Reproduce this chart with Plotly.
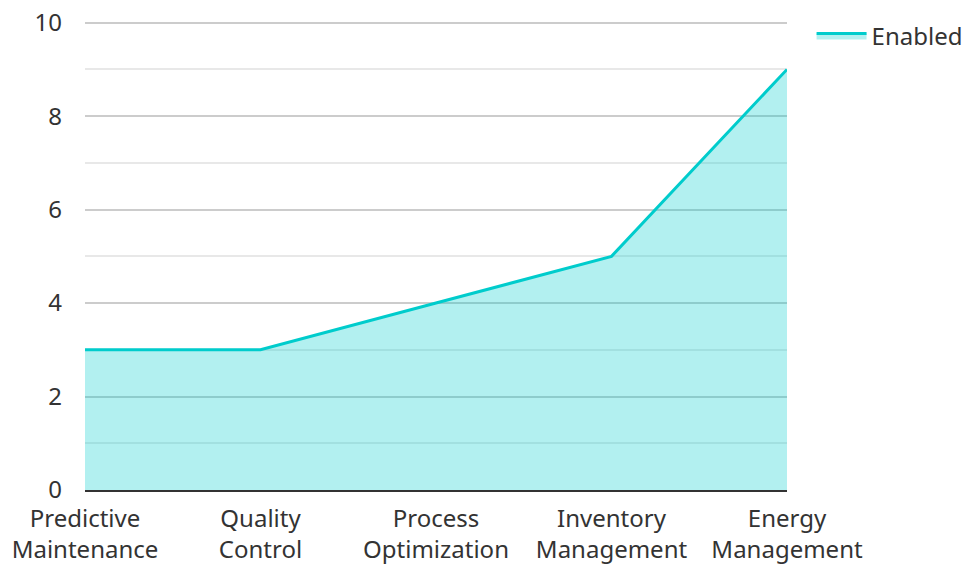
import plotly.graph_objects as go

categories = ["Predictive<br>Maintenance", "Quality<br>Control", "Process<br>Optimization",
              "Inventory<br>Management", "Energy<br>Management"]
enabled = [3, 3, 4, 5, 9]

fig = go.Figure()
fig.add_trace(go.Scatter(
    x=categories, y=enabled, name="Enabled", mode="lines",
    fill="tozeroy", line=dict(color="#00cccc", width=3),
    fillcolor="rgba(0,204,204,0.3)",
))

fig.update_layout(
    width=968, height=564,
    margin=dict(l=85, r=181, t=18, b=74, autoexpand=False),
    paper_bgcolor="white", plot_bgcolor="white",
    font=dict(family="Noto Sans", size=24, color="#333333"),
    showlegend=True,
    legend=dict(x=1.035, y=1.01, xanchor="left", yanchor="top", itemwidth=50,
                font=dict(size=24, color="#333333"), bgcolor="rgba(0,0,0,0)"),
)
fig.update_xaxes(
    type="category", range=[0, 4], showgrid=False, automargin=False,
    showline=True, linecolor="#333333", linewidth=2,
    ticks="", tickangle=0, ticklabelstandoff=6,
)
fig.update_yaxes(
    range=[0, 10.1], dtick=2, tick0=0, automargin=False,
    showgrid=True, gridcolor="#cccccc", gridwidth=1.5,
    minor=dict(dtick=1, showgrid=True, gridcolor="#e8e8e8", gridwidth=1.5),
    zeroline=False, showline=False, ticks="",
    ticklabelstandoff=22,
)

fig.write_html("out.html")
